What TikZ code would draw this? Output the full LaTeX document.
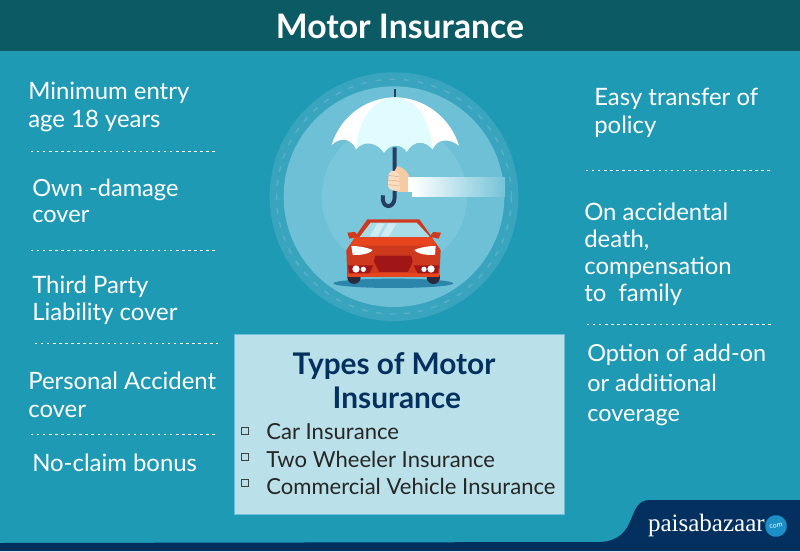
\documentclass[tikz,border=0pt]{standalone}
\usepackage{fontspec}
\setmainfont{Lato}
\newfontfamily\logofont{Liberation Serif}
\usetikzlibrary{positioning}
\definecolor{bgteal}{HTML}{1F9AB5}
\definecolor{headteal}{HTML}{0C5B64}
\definecolor{navy}{HTML}{04305F}
\definecolor{boxblue}{HTML}{BAE0E9}
\definecolor{ringteal}{HTML}{38A4BD}
\definecolor{ringdash}{HTML}{58B1C9}
\definecolor{discblue}{HTML}{6DC0D6}
\definecolor{discinner}{HTML}{7AC7DB}
\definecolor{canopy}{HTML}{E0FCFF}
\definecolor{handle}{HTML}{24405E}
\definecolor{skin}{HTML}{F6CBA2}
\definecolor{skinlight}{HTML}{FBDDC2}
\definecolor{skinline}{HTML}{E8B48C}
\definecolor{carred}{HTML}{CF3A1E}
\definecolor{hoodred}{HTML}{E8451F}
\definecolor{darkred}{HTML}{A01515}
\definecolor{tyre}{HTML}{2A2A3E}
\definecolor{glass}{HTML}{A8DDE8}
\definecolor{shadowblue}{HTML}{2C86AB}
\definecolor{comblue}{HTML}{1C8FC9}
\tikzset{
	sidetext/.style={text=white, anchor=west, align=left, inner sep=0pt},
	itemtext/.style={text=black!85, anchor=west, inner sep=0pt, font=\fontsize{15.7}{18}\selectfont},
	itembox/.style={draw=black!75, fill=boxblue, line width=0.5pt, minimum size=4.6pt, inner sep=0pt},
	sepline/.style={white, line width=0.7pt, dash pattern=on 1.7pt off 2.6pt}
}
\begin{document}
\begin{tikzpicture}[x=0.025cm, y=-0.025cm]
		\useasboundingbox (0, 0) rectangle (800, 551);
		\fill[bgteal] (0, 0) rectangle (800, 551);
		\fill[headteal] (0, 0) rectangle (800, 51);
		\fill[navy] (0, 543) -- (600, 542) .. controls (640, 540) and (625, 500) .. (650, 500) -- (800, 500) -- (800, 551) -- (0, 551) -- cycle;

		% discs, umbrella and car, in crop units
		\begin{scope}[shift={(260, 60)}, scale=1/3]
			\fill[ringteal] (402, 410) circle (373);
			\draw[ringdash, line width=1pt, dash pattern=on 4pt off 6pt] (402, 410) circle (352);
			\fill[discblue] (402, 410) circle (331);
			\fill[discinner] (403, 410) circle (218);

			% umbrella
			\fill[handle] (402, 86) rectangle (408, 115);
			\fill[white] (215, 255) .. controls (240, 170) and (320, 112) .. (405, 112) .. controls (490, 112) and (570, 170) .. (597, 257) .. controls (570, 235) and (530, 235) .. (518, 268) .. controls (495, 240) and (460, 240) .. (440, 275) .. controls (425, 250) and (390, 250) .. (372, 278) .. controls (350, 245) and (310, 240) .. (288, 268) .. controls (275, 235) and (240, 230) .. (215, 255) -- cycle;
			\fill[canopy] (288, 268) .. controls (295, 170) and (350, 112) .. (405, 112) .. controls (460, 112) and (510, 170) .. (518, 268) .. controls (495, 240) and (460, 240) .. (440, 275) .. controls (425, 250) and (390, 250) .. (372, 278) .. controls (350, 245) and (310, 240) .. (288, 268) -- cycle;
			\draw[handle, line width=2.8pt] (404, 262) -- (404, 412) .. controls (404, 448) and (362, 448) .. (369, 406);

			% hand and sleeve
			\fill[skin] (412, 318) .. controls (425, 322) and (440, 330) .. (446, 345) -- (447, 396) -- (415, 396) -- (400, 340) -- cycle;
			\fill[skinlight] (396, 332) .. controls (405, 330) and (414, 336) .. (417, 345) -- (420, 390) .. controls (405, 396) and (388, 392) .. (384, 378) -- (386, 342) -- cycle;
			\draw[skinline, line width=0.5pt] (386, 346) -- (416, 350);
			\draw[skinline, line width=0.5pt] (384, 360) -- (418, 364);
			\draw[skinline, line width=0.5pt] (384, 374) -- (418, 378);
			\fill[white] (445, 352) rectangle (458, 395);
			\shade[left color=white, middle color=discblue!40!white, right color=discblue!95!white] (456, 352) rectangle (735, 410);

			% car
			\fill[shadowblue] (400, 670) ellipse (180 and 14);
			\fill[tyre] (282, 652) circle (20);
			\fill[tyre] (520, 652) circle (20);
			\fill[carred] (322, 478) -- (478, 478) -- (518, 535) -- (282, 535) -- cycle;
			\fill[glass] (332, 488) -- (470, 488) -- (511, 532) -- (298, 532) -- cycle;
			\fill[glass!55!white] (352, 490) -- (374, 490) -- (352, 530) -- (330, 530) -- cycle;
			\fill[glass!55!white] (385, 490) -- (410, 490) -- (385, 530) -- (362, 530) -- cycle;
			\fill[carred] (262, 518) -- (285, 516) -- (296, 530) -- (268, 536) -- cycle;
			\fill[carred] (543, 518) -- (520, 516) -- (508, 530) -- (536, 536) -- cycle;
			\fill[carred] (285, 532) -- (515, 532) -- (542, 570) -- (538, 650) -- (262, 650) -- (259, 570) -- cycle;
			\fill[hoodred] (285, 532) -- (515, 532) -- (530, 557) -- (270, 557) -- cycle;
			\fill[hoodred] (263, 638) rectangle (538, 650);
			\fill[white] (274, 558) .. controls (295, 558) and (320, 562) .. (338, 570) .. controls (325, 585) and (290, 586) .. (278, 584) -- cycle;
			\fill[white] (527, 558) .. controls (505, 558) and (480, 562) .. (463, 570) .. controls (476, 585) and (510, 586) .. (525, 584) -- cycle;
			\fill[darkred] (346, 587) -- (454, 587) -- (458, 605) -- (444, 636) -- (358, 636) -- (342, 605) -- cycle;
			\fill[darkred] (264, 616) -- (340, 616) -- (328, 640) -- (268, 640) -- cycle;
			\fill[darkred] (537, 616) -- (461, 616) -- (473, 640) -- (533, 640) -- cycle;
			\fill[white] (288, 627) circle (11);
			\fill[white] (310, 628) circle (8);
			\fill[white] (513, 627) circle (11);
			\fill[white] (492, 628) circle (8);
		\end{scope}

		% texts
		\node[text=white, font=\fontsize{24}{28}\selectfont\bfseries, inner sep=0pt] (title) at (400, 26) {Motor Insurance};

		\node[sidetext, font=\fontsize{17}{20}\selectfont] (entry) at (28, 107) {Minimum entry\\age 18 years};
		\node[sidetext, font=\fontsize{16.8}{18}\selectfont] (damage) at (32, 201) {Own -damage\\cover};
		\node[sidetext, font=\fontsize{17}{19.5}\selectfont] (party) at (32, 300) {Third Party\\Liability cover};
		\node[sidetext, font=\fontsize{17}{20}\selectfont] (accident) at (28, 395) {Personal Accident\\cover};
		\node[sidetext, font=\fontsize{17}{20}\selectfont] (bonus) at (32, 463) {No-claim bonus};

		\node[sidetext, font=\fontsize{17}{20}\selectfont] (transfer) at (594, 113) {Easy transfer of\\policy};
		\node[sidetext, font=\fontsize{17}{19.2}\selectfont] (death) at (584, 254) {On accidental\\death,\\compensation\\to\ \ family};
		\node[sidetext, font=\fontsize{16.7}{21.3}\selectfont] (addon) at (587, 385) {Option of add-on\\or additional\\coverage};

		\coordinate (sep1a) at (31, 151);
		\coordinate (sep1b) at (215, 151);
		\coordinate (sep2a) at (31, 250);
		\coordinate (sep2b) at (215, 250);
		\coordinate (sep3a) at (35, 343);
		\coordinate (sep3b) at (218, 343);
		\coordinate (sep4a) at (31, 434);
		\coordinate (sep4b) at (218, 434);
		\coordinate (sep5a) at (586, 170);
		\coordinate (sep5b) at (770, 170);
		\coordinate (sep6a) at (587, 324);
		\coordinate (sep6b) at (772, 324);
		\draw[sepline] (sep1a) -- (sep1b);
		\draw[sepline] (sep2a) -- (sep2b);
		\draw[sepline] (sep3a) -- (sep3b);
		\draw[sepline] (sep4a) -- (sep4b);
		\draw[sepline] (sep5a) -- (sep5b);
		\draw[sepline] (sep6a) -- (sep6b);

		% types box
		\node[draw=discblue, fill=boxblue, line width=0.6pt, minimum width=8.25cm, minimum height=4.5cm, anchor=north west] (types) at (234, 334) {};
		\node[text=navy, font=\fontsize{21.2}{24}\selectfont\bfseries, align=center, inner sep=0pt] (typestitle) at (394, 381) {Types of Motor\\\hspace*{4pt}Insurance};
		\node[itemtext] (car) at (266, 432) {Car Insurance};
		\node[itemtext] (wheeler) at (266, 459) {Two Wheeler Insurance};
		\node[itemtext] (vehicle) at (266, 486) {Commercial Vehicle Insurance};
		\node[itembox] (carbox) at (245, 431) {};
		\node[itembox] (wheelerbox) at (245, 457) {};
		\node[itembox] (vehiclebox) at (245, 483) {};

		% logo
		\node[text=white, font=\fontsize{17.8}{20}\selectfont\logofont, inner sep=0pt, anchor=east] (logo) at (765, 525) {paisabazaar};
		\node[circle, fill=comblue, minimum size=15.5pt, inner sep=0pt, text=white, font=\fontsize{5}{6}\selectfont, rotate=10] (com) at (776, 526) {com};
	\end{tikzpicture}
\end{document}
